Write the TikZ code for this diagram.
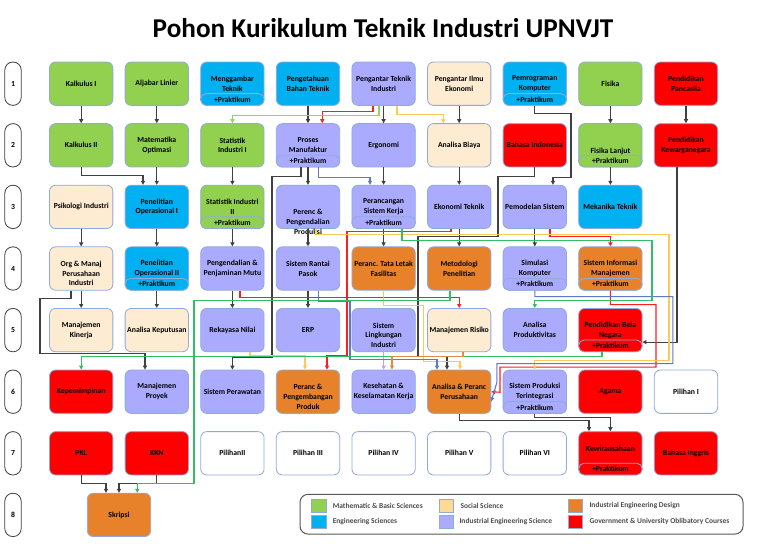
\documentclass[tikz,border=0pt]{standalone}
\usepackage{fontspec}
\setmainfont{Carlito}
\usetikzlibrary{arrows.meta}

\definecolor{mathfill}{RGB}{146,208,80}
\definecolor{engfill}{RGB}{0,176,240}
\definecolor{iesfill}{RGB}{170,170,255}
\definecolor{socfill}{RGB}{253,235,210}
\definecolor{socswatch}{RGB}{255,217,150}
\definecolor{iedfill}{RGB}{232,130,42}
\definecolor{govfill}{RGB}{255,0,0}
\definecolor{edgeblue}{RGB}{143,170,220}
\definecolor{lkdark}{RGB}{64,64,64}
\definecolor{lkred}{RGB}{255,30,30}
\definecolor{lkgreen}{RGB}{50,190,100}
\definecolor{lklime}{RGB}{150,210,90}
\definecolor{lkyellow}{RGB}{255,200,90}
\definecolor{lkblue}{RGB}{95,120,200}
\definecolor{lkpurple}{RGB}{204,153,255}
\definecolor{lktan}{RGB}{225,140,70}

\tikzset{every picture/.style={line width=0.75pt}}
\tikzset{
  course/.style={draw=edgeblue, line width=0.6pt, rounded corners=4.5pt, minimum width=47.5pt, minimum height=32.5pt, inner sep=0.5pt, align=center, font=\fontsize{5.8}{7.3}\selectfont\bfseries},
  coursetext/.style={align=center, inner sep=0pt, font=\fontsize{5.8}{7.3}\selectfont\bfseries},
  praktikum/.style={draw=edgeblue, line width=0.6pt, rounded corners=4pt, minimum width=47.5pt, minimum height=8.8pt, inner sep=0pt, anchor=south, font=\fontsize{5.8}{7.3}\selectfont\bfseries},
  rowtag/.style={draw=black!75, line width=0.6pt, fill=white, rounded corners=6pt, minimum width=12.3pt, minimum height=32.5pt, inner sep=0pt, font=\fontsize{5.8}{7.3}\selectfont\bfseries},
  swatch/.style={draw=edgeblue, line width=0.5pt, minimum width=10.7pt, minimum height=10pt, inner sep=0pt},
  legendtext/.style={anchor=west, inner sep=0pt, text=black!70, font=\fontsize{5.6}{7}\selectfont\bfseries},
  link/.style={-{Triangle[length=3pt,width=3pt]}, line width=0.8pt},
}

\begin{document}
\begin{tikzpicture}[x=0.75pt,y=0.75pt,yscale=-1,xscale=1]
\path[use as bounding box, fill=white] (0,0) rectangle (768,543);

% Text Node
\node[anchor=base, inner sep=0pt, font=\fontsize{20.4}{24}\selectfont\bfseries] (title) at (383,37) {Pohon Kurikulum Teknik Industri UPNVJT};

%Shape: Rounded Rect [semester tags]
\node[rowtag] (r1) at (13,83.7) {1};
\node[rowtag] (r2) at (13,145.3) {2};
\node[rowtag] (r3) at (13,206.9) {3};
\node[rowtag] (r4) at (13,268.5) {4};
\node[rowtag] (r5) at (13,330.1) {5};
\node[rowtag] (r6) at (13,391.7) {6};
\node[rowtag] (r7) at (13,453.3) {7};
\node[rowtag] (r8) at (13,514.9) {8};

%Shape: Rounded Rect [semester 1]
\node[course, fill=mathfill] (kal1) at (81.2,83.7) {Kalkulus I};
\node[course, fill=mathfill] (alin) at (156.8,83.7) {Aljabar Linier};
\node[course, fill=engfill] (mgt) at (232.4,83.7) {Menggambar\\Teknik};
\node[praktikum, fill=engfill] (mgt-p) at (mgt.south) {+Praktikum};
\node[course, fill=engfill] (pbt) at (308,83.7) {Pengetahuan\\Bahan Teknik};
\node[course, fill=iesfill] (pti) at (383.6,83.7) {Pengantar Teknik\\Industri};
\node[course, fill=socfill] (pie) at (459.2,83.7) {Pengantar Ilmu\\Ekonomi};
\node[course, fill=engfill] (pkom) at (534.8,83.7) {Pemrograman\\Komputer};
\node[praktikum, fill=engfill] (pkom-p) at (pkom.south) {+Praktikum};
\node[course, fill=mathfill] (fis) at (610.4,83.7) {Fisika};
\node[course, fill=govfill] (ppan) at (686,83.7) {Pendidikan\\Pancasila};

%Shape: Rounded Rect [semester 2]
\node[course, fill=mathfill] (kal2) at (81.2,145.3) {Kalkulus II};
\node[course, fill=mathfill] (mopt) at (156.8,145.3) {Matematika\\Optimasi};
\node[course, fill=mathfill] (sti1) at (232.4,145.3) {Statistik\\Industri I};
\node[course, fill=iesfill] (pman) at (308,145.3) {Proses\\Manufaktur};
\node[praktikum, fill=iesfill] (pman-p) at (pman.south) {+Praktikum};
\node[course, fill=iesfill] (ergo) at (383.6,145.3) {Ergonomi};
\node[course, fill=socfill] (abiaya) at (459.2,145.3) {Analisa Biaya};
\node[course, fill=govfill] (bind) at (534.8,145.3) {Bahasa Indonesia};
\node[course, fill=mathfill, label={[coursetext, name=fisl-t, yshift=-4.5pt]center:{Fisika Lanjut}}] (fisl) at (610.4,145.3) {};
\node[praktikum, fill=mathfill] (fisl-p) at (fisl.south) {+Praktikum};
\node[course, fill=govfill] (pkew) at (686,145.3) {Pendidikan\\Kewarganegara};

%Shape: Rounded Rect [semester 3]
\node[course, fill=socfill] (psi) at (81.2,206.9) {Psikologi Industri};
\node[course, fill=engfill] (po1) at (156.8,206.9) {Penelitian\\Operasional I};
\node[course, fill=mathfill] (sti2) at (232.4,206.9) {Statistik Industri\\II};
\node[praktikum, fill=mathfill] (sti2-p) at (sti2.south) {+Praktikum};
\node[course, fill=iesfill, label={[coursetext, name=ppp-t, yshift=-11.25pt]center:{Perenc \&\\Pengendalian\\Produksi}}] (ppp) at (308,206.9) {};
\node[course, fill=iesfill] (psk) at (383.6,206.9) {Perancangan\\Sistem Kerja};
\node[praktikum, fill=iesfill] (psk-p) at (psk.south) {+Praktikum};
\node[course, fill=iesfill] (etek) at (459.2,206.9) {Ekonomi Teknik};
\node[course, fill=iesfill] (pmod) at (534.8,206.9) {Pemodelan Sistem};
\node[course, fill=engfill] (mtek) at (610.4,206.9) {Mekanika Teknik};

%Shape: Rounded Rect [semester 4]
\node[course, fill=socfill, label={[coursetext, name=oman-t, yshift=-3.75pt]center:{Org \& Manaj\\Perusahaan\\Industri}}] (oman) at (81.2,268.5) {};
\node[course, fill=engfill] (po2) at (156.8,268.5) {Penelitian\\Operasional II};
\node[praktikum, fill=engfill] (po2-p) at (po2.south) {+Praktikum};
\node[course, fill=iesfill] (ppm) at (232.4,268.5) {Pengendalian \&\\Penjaminan Mutu};
\node[course, fill=iesfill] (srp) at (308,268.5) {Sistem Rantai\\Pasok};
\node[course, fill=iedfill] (ptlf) at (383.6,268.5) {Peranc. Tata Letak\\Fasilitas};
\node[course, fill=iedfill] (metp) at (459.2,268.5) {Metodologi\\Penelitian};
\node[course, fill=iesfill] (simk) at (534.8,268.5) {Simulasi\\Komputer};
\node[praktikum, fill=iesfill] (simk-p) at (simk.south) {+Praktikum};
\node[course, fill=iedfill] (sim) at (610.4,268.5) {Sistem Informasi\\Manajemen};
\node[praktikum, fill=iedfill] (sim-p) at (sim.south) {+Praktikum};

%Shape: Rounded Rect [semester 5]
\node[course, fill=socfill] (mkin) at (81.2,330.1) {Manajemen\\Kinerja};
\node[course, fill=socfill] (akep) at (156.8,330.1) {Analisa Keputusan};
\node[course, fill=iesfill] (rnil) at (232.4,330.1) {Rekayasa Nilai};
\node[course, fill=iesfill] (erp) at (308,330.1) {ERP};
\node[course, fill=iesfill, label={[coursetext, name=sli-t, yshift=-3.75pt]center:{Sistem\\Lingkungan\\Industri}}] (sli) at (383.6,330.1) {};
\node[course, fill=socfill] (mris) at (459.2,330.1) {Manajemen Risiko};
\node[course, fill=iesfill] (aprod) at (534.8,330.1) {Analisa\\Produktivitas};
\node[course, fill=govfill] (pbn) at (610.4,330.1) {Pendidikan Bela\\Negara};
\node[praktikum, fill=govfill] (pbn-p) at (pbn.south) {+Praktikum};

%Shape: Rounded Rect [semester 6]
\node[course, fill=govfill] (kpm) at (81.2,391.7) {Kepemimpinan};
\node[course, fill=iesfill] (mpro) at (156.8,391.7) {Manajemen\\Proyek};
\node[course, fill=iesfill] (sper) at (232.4,391.7) {Sistem Perawatan};
\node[course, fill=iedfill, label={[coursetext, name=ppprod-t, yshift=-3.75pt]center:{Peranc \&\\Pengembangan\\Produk}}] (ppprod) at (308,391.7) {};
\node[course, fill=iesfill] (k3) at (383.6,391.7) {Kesehatan \&\\Keselamatan Kerja};
\node[course, fill=iedfill] (apper) at (459.2,391.7) {Analisa \& Peranc\\Perusahaan};
\node[course, fill=iesfill] (spt) at (534.8,391.7) {Sistem Produksi\\Terintegrasi};
\node[praktikum, fill=iesfill] (spt-p) at (spt.south) {+Praktikum};
\node[course, fill=govfill] (agama) at (610.4,391.7) {Agama};
\node[course, fill=white] (pil1) at (686,391.7) {Pilihan I};

%Shape: Rounded Rect [semester 7]
\node[course, fill=govfill] (pkl) at (81.2,453.3) {PKL};
\node[course, fill=govfill] (kkn) at (156.8,453.3) {KKN};
\node[course, fill=white] (pil2) at (232.4,453.3) {PilihanII};
\node[course, fill=white] (pil3) at (308,453.3) {Pilihan III};
\node[course, fill=white] (pil4) at (383.6,453.3) {Pilihan IV};
\node[course, fill=white] (pil5) at (459.2,453.3) {Pilihan V};
\node[course, fill=white] (pil6) at (534.8,453.3) {Pilihan VI};
\node[course, fill=govfill, label={[coursetext, name=kwu-t, yshift=3pt]center:{Kewirausahaan}}] (kwu) at (610.4,453.3) {};
\node[praktikum, fill=govfill] (kwu-p) at (kwu.south) {+Praktikum};
\node[course, fill=govfill] (bing) at (686,453.3) {Bahasa Inggris};

%Shape: Rounded Rect [semester 8]
\node[course, fill=iedfill] (skripsi) at (119,514.9) {Skripsi};

%Straight Lines [same column]
\draw[link, lkdark] (kal1) -- (kal2);
\draw[link, lkdark] (alin) -- (mopt);
\draw[link, lkdark] (mopt) -- (po1);
\draw[link, lkdark] (pbt) -- (pman);
\draw[link, lkdark] (pti) -- (ergo);
\draw[link, lkdark] (pie) -- (abiaya);
\draw[link, lkdark] (fis) -- (fisl);
\draw[link, lkdark] (ppan) -- (pkew);
\draw[link, lkdark] (sti1) -- (sti2);
\draw[link, lkdark] (pman) -- (ppp);
\draw[link, lkdark] (ergo) -- (psk);
\draw[link, lkdark] (abiaya) -- (etek);
\draw[link, lkdark] (fisl) -- (mtek);
\draw[link, lkdark] (psi) -- (oman);
\draw[link, lkdark] (po1) -- (po2);
\draw[link, lkdark] (sti2) -- (ppm);
\draw[link, lkdark] (ppp) -- (srp);
\draw[link, lkdark] (psk) -- (ptlf);
\draw[link, lkdark] (etek) -- (metp);
\draw[link, lkdark] (pmod) -- (simk);
\draw[link, lkdark] (oman) -- (mkin);
\draw[link, lkdark] (po2) -- (akep);
\draw[link, lkdark] (ppm) -- (rnil);
\draw[link, lkdark] (srp) -- (erp);
\draw[link, lkpurple] (sli) -- (k3);

%Connector [elbow, dark]
\draw[link, lkdark] (kal2.south) -- ++(0,8.2) -| ([xshift=-10.35pt]po1.north);
\draw[link, lkdark] (pkom.south) -- ++(0,8) -| ++(36.2,64) -| ([xshift=13.65pt]pmod.north);
\draw[link, lkdark] ([xshift=-7.65pt]oman.south) -- ++(0,8) -| ++(-31,55) -| ([xshift=-8.85pt]mpro.north);
\draw[link, lkdark] ([xshift=-5.25pt]pman.south) -- ++(0,9) -| ++(-29,181) -| (sper.north);
\draw[link, lkdark] ([xshift=-6.75pt]pkew.south) |- ([yshift=9pt]pbn.east);
\draw[link, lkdark] (bind.south) -- ++(0,9) -| ++(-36.8,60) -| ++(-80,120) -| ([xshift=-9.15pt]apper.north);
\draw[link, lkdark] (apper.south) -- ++(0,7) -| ([xshift=-16.05pt]kwu.north);
\draw[link, lkdark] (spt.south) -- ++(0,4) -| (kwu.north);
\draw[link, lkdark] (pkl.south) -- ++(0,8) -| ([xshift=-9.75pt]skripsi.north);
\draw[link, lkdark] (kkn.south) -- ++(0,8) -| (skripsi.north);

%Connector [elbow, red]
\draw[link, lkred] ([xshift=-7.95pt]pti.south) -- ++(0,6) -| ([xshift=10.7pt]pman.north);
\draw[link, lkred] ([xshift=11.4pt]pmod.south) -- ++(0,7.5) -| (sim.north);
\draw[link, lkred] (sim.south) -- ++(0,14) -| ++(45.6,62.5) -| ++(-156,25.2) -- (apper.east);
\draw[link, lkred] ([xshift=-6.15pt]etek.south) -- ++(0,2.6) -| ++(-104,124) -| ([xshift=14.25pt]ppprod.north);
\draw[link, lkred] ([xshift=5.7pt]ppm.south) -- ++(0,7) -| (mris.north);

%Connector [elbow, yellow]
\draw[link, lkyellow] ([xshift=10.05pt]pti.south) -- ++(0,9) -| ([xshift=-11.9pt]abiaya.north);
\draw[link, lkyellow] ([xshift=6pt]ppp.south) -- ++(0,5.6) -| ++(353,125.5) -| (spt.north);
\draw[link, lkyellow] ([xshift=13.2pt]rnil.south) -- ++(0,3) -| ([xshift=-2.25pt]ppprod.north);
\draw[link, lkyellow] (ptlf.south) -- ++(0,15) -| ++(40,56) -| ([xshift=0.6pt]apper.north);

%Connector [elbow, blue]
\draw[link, lkblue] ([xshift=7.7pt]pman.south) -- ++(0,10) -| ([xshift=-10.2pt]psk.north);
\draw[link, lkblue] ([xshift=7.7pt]srp.south) -- ++(0,11) -| ++(31.7,58) -| ([xshift=-16.65pt]apper.north);
\draw[link, lkblue] (simk.south) -- ++(0,6) -| ++(138,67) -| ++(-176,19) -- ([yshift=7.3pt]apper.east);

%Connector [elbow, green]
\draw[link, lklime] ([xshift=-3.45pt]pti.south) -- ++(0,10) -| (sti1.north);
\draw[link, lkgreen] ([xshift=13.8pt]psk.south) -- ++(0,11.6) -| ++(250,60) -| (aprod.north);
\draw[link, lkgreen] ([xshift=-6.9pt]metp.south) -- ++(0,10) -| ++(-256,183) -| ([xshift=13.7pt]skripsi.north);
\draw[link, lkgreen] ([xshift=-6.3pt]pbn.south) -- ++(0,4.4) -| (kpm.north);

%Connector [elbow, tan]
\draw[link, lktan] ([xshift=2.85pt]mris.south) -- ++(0,4.5) -| ([xshift=6.3pt]k3.north);

%Shape: Rounded Rect [legend]
\node[draw=black!65, line width=0.75pt, rounded corners=6pt, minimum width=332.25pt, minimum height=29.8pt, inner sep=0pt] (leg) at (521.5,514.2) {};
\node[swatch, fill=mathfill] (sw-math) at (318.9,506) {};
\node[swatch, fill=engfill] (sw-eng) at (318.9,521.9) {};
\node[swatch, fill=socswatch] (sw-soc) at (446.5,506) {};
\node[swatch, fill=iesfill] (sw-ies) at (446.5,521.9) {};
\node[swatch, fill=iedfill] (sw-ied) at (575.3,506) {};
\node[swatch, fill=govfill] (sw-gov) at (575.3,521.9) {};

% Text Node
\node[legendtext] (lt-math) at (332.3,506) {Mathematic \& Basic Sciences};
\node[legendtext] (lt-eng) at (332.3,521.9) {Engineering Sciences};
\node[legendtext] (lt-soc) at (460,506) {Social Science};
\node[legendtext] (lt-ies) at (459,521.9) {Industrial Engineering Science};
\node[legendtext] (lt-ied) at (589,506) {Industrial Engineering Design};
\node[legendtext] (lt-gov) at (589,521.9) {Government \& University Oblibatory Courses};

\end{tikzpicture}
\end{document}
